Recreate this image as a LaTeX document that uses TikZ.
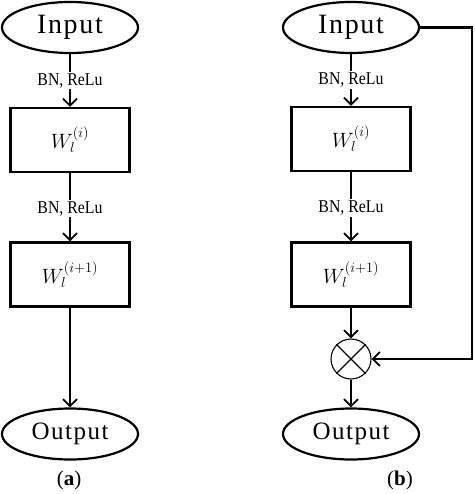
\documentclass[tikz,border=0pt]{standalone}
\usepackage{fontspec}
\setmainfont{Liberation Serif}
\newfontfamily\labfont[FakeStretch=0.88]{Liberation Serif}
\newfontfamily\termfont[LetterSpace=6]{Liberation Serif}
\usetikzlibrary{arrows.meta,shapes.geometric}
\begin{document}
\begin{tikzpicture}[x=1pt,y=-1pt,
  line width=2.2pt,
  term/.style={ellipse,draw,minimum width=136pt,minimum height=51pt,inner sep=0pt},
  wbox/.style={rectangle,draw,minimum width=119pt,minimum height=64pt,inner sep=0pt,
    font=\fontsize{22}{22}\selectfont},
  lab/.style={fill=white,inner sep=1.5pt,font=\labfont\fontsize{18}{18}\selectfont},
  arr/.style={-{Straight Barb[length=7pt,width=14pt,line width=1.8pt]}},
  subcap/.style={font=\fontsize{21}{21}\selectfont}
]
\useasboundingbox (0,0) rectangle (474,494);
% (a)
\node[term,font=\termfont\fontsize{28}{28}\selectfont] (ina) at (70,27.5) {Input};
\node[wbox] (w1a) at (70,140) {$W_l^{(i)}$};
\node[wbox] (w2a) at (70,274.5) {$W_l^{(i+1)}$};
\node[term,font=\termfont\fontsize{25}{25}\selectfont] (outa) at (70,434) {Output};
\draw[arr] (ina) -- node[lab,pos=0.5] {BN, ReLu} (w1a);
\draw[arr] (w1a) -- node[lab,pos=0.52] {BN, ReLu} (w2a);
\draw[arr] (w2a) -- (outa);
\node[subcap] (capa) at (69,480) {(\textbf{a})};
% (b)
\node[term,font=\termfont\fontsize{28}{28}\selectfont] (inb) at (351,27.5) {Input};
\node[wbox] (w1b) at (351,139) {$W_l^{(i)}$};
\node[wbox] (w2b) at (351,274.5) {$W_l^{(i+1)}$};
\node[circle,draw,line width=1.1pt,minimum size=40pt,inner sep=0pt] (mul) at (351,359) {};
\draw[line width=1.1pt] (mul.45) -- (mul.225) (mul.135) -- (mul.315);
\node[term,font=\termfont\fontsize{25}{25}\selectfont] (outb) at (351,434) {Output};
\draw[arr] (inb) -- node[lab,pos=0.5] {BN, ReLu} (w1b);
\draw[arr] (w1b) -- node[lab,pos=0.52] {BN, ReLu} (w2b);
\draw[arr] (w2b) -- (mul);
\draw[arr] (mul) -- (outb);
\coordinate (tr) at (472,27.5);
\coordinate (br) at (472,359);
\draw[arr] (inb.east) -- (tr) -- (br) -- (mul.east);
\node[subcap] (capb) at (400,480) {(\textbf{b})};
\end{tikzpicture}
\end{document}
